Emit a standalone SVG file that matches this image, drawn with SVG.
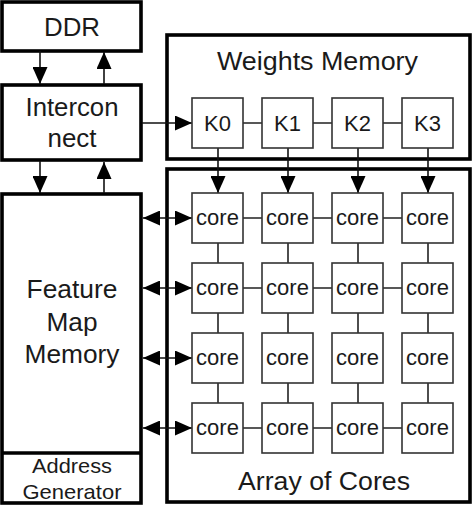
<svg xmlns="http://www.w3.org/2000/svg" width="474" height="506" viewBox="0 0 474 506">
<style>
.big{fill:#fff;stroke:#000;stroke-width:3.6}
.sm{fill:#fff;stroke:#333;stroke-width:1.6}
.ln{stroke:#222;stroke-width:1.6;fill:none}
.ar{stroke:#111;stroke-width:1.6;fill:none;marker-end:url(#ah)}
.bi{stroke:#111;stroke-width:1.6;fill:none;marker-end:url(#ah);marker-start:url(#ah)}
text{font-family:"Liberation Sans",Arial,sans-serif;fill:#1a1a1a;text-anchor:middle}
.t25{font-size:25.5px}
.t22{font-size:22px}
.t21{font-size:21px}
</style>
<defs>
<marker id="ah" markerUnits="userSpaceOnUse" markerWidth="17" markerHeight="15" refX="17" refY="7.5" orient="auto-start-reverse" viewBox="0 0 17 15">
<path d="M0,0 L17,7.5 L0,15 Z" fill="#000"/>
</marker>
</defs>
<g id="ddr"><rect class="big" x="2" y="2" width="139" height="49"/><text class="t25" x="72" y="36" textLength="56" lengthAdjust="spacingAndGlyphs">DDR</text></g>
<g id="interconnect"><rect class="big" x="2" y="85" width="139" height="75"/><text class="t25" x="72" y="116" textLength="93" lengthAdjust="spacingAndGlyphs">Intercon</text><text class="t25" x="72" y="147" textLength="49" lengthAdjust="spacingAndGlyphs">nect</text></g>
<g id="featuremap"><rect class="big" x="2" y="194" width="139" height="309"/><line x1="2" y1="453" x2="141" y2="453" stroke="#000" stroke-width="3.6"/><text class="t25" x="72" y="298" textLength="91" lengthAdjust="spacingAndGlyphs">Feature</text><text class="t25" x="72" y="331" textLength="51" lengthAdjust="spacingAndGlyphs">Map</text><text class="t25" x="72" y="363" textLength="95" lengthAdjust="spacingAndGlyphs">Memory</text><text class="t21" x="72" y="473" textLength="80" lengthAdjust="spacingAndGlyphs">Address</text><text class="t21" x="72" y="499" textLength="99" lengthAdjust="spacingAndGlyphs">Generator</text></g>
<g id="weights"><rect class="big" x="167" y="35" width="303" height="124"/><text class="t25" x="317.5" y="70" textLength="201" lengthAdjust="spacingAndGlyphs">Weights Memory</text></g>
<g id="array"><rect class="big" x="167" y="169" width="303" height="333"/><text class="t25" x="324" y="490" textLength="172" lengthAdjust="spacingAndGlyphs">Array of Cores</text></g>
<g id="connectors">
<line class="ar" x1="40" y1="51" x2="40" y2="84"/>
<line class="ar" x1="104" y1="84" x2="104" y2="52"/>
<line class="ar" x1="40" y1="161" x2="40" y2="193"/>
<line class="ar" x1="104" y1="193" x2="104" y2="162"/>
<line class="ar" x1="142" y1="123" x2="192" y2="123"/>
<path class="ln" d="M243,123H262M313,123H332M383,123H402"/>
<line class="ar" x1="218" y1="148" x2="218" y2="193"/>
<line class="ar" x1="288" y1="148" x2="288" y2="193"/>
<line class="ar" x1="358" y1="148" x2="358" y2="193"/>
<line class="ar" x1="428" y1="148" x2="428" y2="193"/>
<line class="bi" x1="143" y1="218" x2="192" y2="218"/>
<line class="bi" x1="143" y1="288" x2="192" y2="288"/>
<line class="bi" x1="143" y1="358" x2="192" y2="358"/>
<line class="bi" x1="143" y1="428" x2="192" y2="428"/>
<path class="ln" d="M243,218H262M313,218H332M383,218H402M243,288H262M313,288H332M383,288H402M243,428H262M313,428H332M383,428H402"/>
<path class="ln" d="M218,243V263M288,243V263M358,243V263M428,243V263M218,313V333M288,313V333M358,313V333M428,313V333M218,383V403M288,383V403M358,383V403M428,383V403"/>
</g>
<g id="k0"><rect class="sm" x="192" y="98" width="51" height="50"/><text class="t22" x="217.5" y="131">K0</text></g>
<g id="k1"><rect class="sm" x="262" y="98" width="51" height="50"/><text class="t22" x="287.5" y="131">K1</text></g>
<g id="k2"><rect class="sm" x="332" y="98" width="51" height="50"/><text class="t22" x="357.5" y="131">K2</text></g>
<g id="k3"><rect class="sm" x="402" y="98" width="51" height="50"/><text class="t22" x="427.5" y="131">K3</text></g>
<g id="core-r1c1"><rect class="sm" x="192" y="193" width="51" height="50"/><text class="t22" x="217.5" y="225">core</text></g>
<g id="core-r1c2"><rect class="sm" x="262" y="193" width="51" height="50"/><text class="t22" x="287.5" y="225">core</text></g>
<g id="core-r1c3"><rect class="sm" x="332" y="193" width="51" height="50"/><text class="t22" x="357.5" y="225">core</text></g>
<g id="core-r1c4"><rect class="sm" x="402" y="193" width="51" height="50"/><text class="t22" x="427.5" y="225">core</text></g>
<g id="core-r2c1"><rect class="sm" x="192" y="263" width="51" height="50"/><text class="t22" x="217.5" y="295">core</text></g>
<g id="core-r2c2"><rect class="sm" x="262" y="263" width="51" height="50"/><text class="t22" x="287.5" y="295">core</text></g>
<g id="core-r2c3"><rect class="sm" x="332" y="263" width="51" height="50"/><text class="t22" x="357.5" y="295">core</text></g>
<g id="core-r2c4"><rect class="sm" x="402" y="263" width="51" height="50"/><text class="t22" x="427.5" y="295">core</text></g>
<g id="core-r3c1"><rect class="sm" x="192" y="333" width="51" height="50"/><text class="t22" x="217.5" y="365">core</text></g>
<g id="core-r3c2"><rect class="sm" x="262" y="333" width="51" height="50"/><text class="t22" x="287.5" y="365">core</text></g>
<g id="core-r3c3"><rect class="sm" x="332" y="333" width="51" height="50"/><text class="t22" x="357.5" y="365">core</text></g>
<g id="core-r3c4"><rect class="sm" x="402" y="333" width="51" height="50"/><text class="t22" x="427.5" y="365">core</text></g>
<g id="core-r4c1"><rect class="sm" x="192" y="403" width="51" height="50"/><text class="t22" x="217.5" y="435">core</text></g>
<g id="core-r4c2"><rect class="sm" x="262" y="403" width="51" height="50"/><text class="t22" x="287.5" y="435">core</text></g>
<g id="core-r4c3"><rect class="sm" x="332" y="403" width="51" height="50"/><text class="t22" x="357.5" y="435">core</text></g>
<g id="core-r4c4"><rect class="sm" x="402" y="403" width="51" height="50"/><text class="t22" x="427.5" y="435">core</text></g>
</svg>
